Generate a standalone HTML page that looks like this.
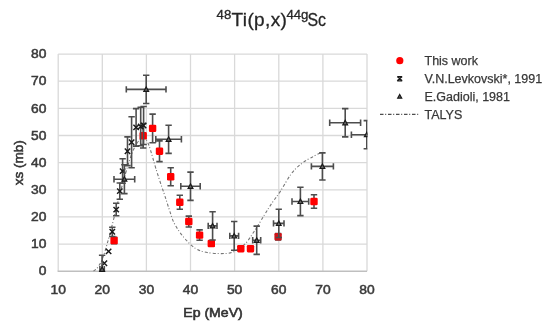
<!DOCTYPE html>
<html><head><meta charset="utf-8"><style>
html,body{margin:0;padding:0;background:#fff;}
svg{display:block;}
text{font-family:"Liberation Sans",sans-serif;fill:#404040;}
.tk{font-size:12.6px;fill:#3a3a3a;stroke:#3a3a3a;stroke-width:0.5px;}
.lg{font-size:12.5px;fill:#383838;stroke:#383838;stroke-width:0.25px;}
.at{font-size:13.5px;fill:#333;stroke:#333;stroke-width:0.55px;}
.at2{font-size:12.8px;fill:#333;stroke:#333;stroke-width:0.6px;}
.tt{font-size:19px;fill:#262626;stroke:#262626;stroke-width:0.3px;}
.sup{font-size:13.2px;}
</style></head><body>
<svg width="550" height="330" viewBox="0 0 550 330">
<defs><clipPath id="pc"><rect x="40" y="40" width="327.4" height="231.9"/></clipPath></defs>
<rect width="550" height="330" fill="#fff"/>
<line x1="58.2" y1="244.1" x2="367.0" y2="244.1" stroke="#d9d9d9" stroke-width="1.3"/>
<line x1="58.2" y1="216.9" x2="367.0" y2="216.9" stroke="#d9d9d9" stroke-width="1.3"/>
<line x1="58.2" y1="189.8" x2="367.0" y2="189.8" stroke="#d9d9d9" stroke-width="1.3"/>
<line x1="58.2" y1="162.6" x2="367.0" y2="162.6" stroke="#d9d9d9" stroke-width="1.3"/>
<line x1="58.2" y1="135.5" x2="367.0" y2="135.5" stroke="#d9d9d9" stroke-width="1.3"/>
<line x1="58.2" y1="108.4" x2="367.0" y2="108.4" stroke="#d9d9d9" stroke-width="1.3"/>
<line x1="58.2" y1="81.2" x2="367.0" y2="81.2" stroke="#d9d9d9" stroke-width="1.3"/>
<line x1="58.2" y1="54.1" x2="367.0" y2="54.1" stroke="#d9d9d9" stroke-width="1.3"/>
<line x1="102.3" y1="271.2" x2="102.3" y2="54.1" stroke="#d9d9d9" stroke-width="1.3"/>
<line x1="146.4" y1="271.2" x2="146.4" y2="54.1" stroke="#d9d9d9" stroke-width="1.3"/>
<line x1="190.5" y1="271.2" x2="190.5" y2="54.1" stroke="#d9d9d9" stroke-width="1.3"/>
<line x1="234.6" y1="271.2" x2="234.6" y2="54.1" stroke="#d9d9d9" stroke-width="1.3"/>
<line x1="278.8" y1="271.2" x2="278.8" y2="54.1" stroke="#d9d9d9" stroke-width="1.3"/>
<line x1="322.9" y1="271.2" x2="322.9" y2="54.1" stroke="#d9d9d9" stroke-width="1.3"/>
<line x1="367.0" y1="271.2" x2="367.0" y2="54.1" stroke="#d9d9d9" stroke-width="1.3"/>
<line x1="58.2" y1="271.2" x2="58.2" y2="54.1" stroke="#d9d9d9" stroke-width="1.3"/>
<line x1="57.6" y1="271.2" x2="367.0" y2="271.2" stroke="#bfbfbf" stroke-width="1.5"/>
<text transform="translate(46.4,275.4) scale(1.1,1)" text-anchor="end" class="tk">0</text>
<text transform="translate(46.4,248.3) scale(1.1,1)" text-anchor="end" class="tk">10</text>
<text transform="translate(46.4,221.1) scale(1.1,1)" text-anchor="end" class="tk">20</text>
<text transform="translate(46.4,194.0) scale(1.1,1)" text-anchor="end" class="tk">30</text>
<text transform="translate(46.4,166.8) scale(1.1,1)" text-anchor="end" class="tk">40</text>
<text transform="translate(46.4,139.7) scale(1.1,1)" text-anchor="end" class="tk">50</text>
<text transform="translate(46.4,112.6) scale(1.1,1)" text-anchor="end" class="tk">60</text>
<text transform="translate(46.4,85.4) scale(1.1,1)" text-anchor="end" class="tk">70</text>
<text transform="translate(46.4,58.3) scale(1.1,1)" text-anchor="end" class="tk">80</text>
<text transform="translate(58.2,293.6) scale(1.1,1)" text-anchor="middle" class="tk">10</text>
<text transform="translate(102.3,293.6) scale(1.1,1)" text-anchor="middle" class="tk">20</text>
<text transform="translate(146.4,293.6) scale(1.1,1)" text-anchor="middle" class="tk">30</text>
<text transform="translate(190.5,293.6) scale(1.1,1)" text-anchor="middle" class="tk">40</text>
<text transform="translate(234.6,293.6) scale(1.1,1)" text-anchor="middle" class="tk">50</text>
<text transform="translate(278.8,293.6) scale(1.1,1)" text-anchor="middle" class="tk">60</text>
<text transform="translate(322.9,293.6) scale(1.1,1)" text-anchor="middle" class="tk">70</text>
<text transform="translate(367.0,293.6) scale(1.1,1)" text-anchor="middle" class="tk">80</text>
<path d="M93.5,271.2 C94.2,270.5 96.4,269.2 97.9,267.1 C99.4,265.1 100.8,262.6 102.3,259.0 C103.8,255.4 105.3,250.4 106.7,245.4 C108.2,240.4 109.7,234.8 111.1,229.1 C112.6,223.5 114.1,217.4 115.5,211.5 C117.0,205.6 118.5,199.5 120.0,193.9 C121.4,188.2 122.9,182.8 124.4,177.6 C125.8,172.4 127.3,167.2 128.8,162.6 C130.2,158.1 131.7,153.8 133.2,150.4 C134.7,147.0 136.1,144.3 137.6,142.3 C139.1,140.2 140.7,138.8 142.0,138.2 C143.3,137.6 144.4,137.5 145.5,138.8 C146.7,140.0 147.9,142.7 149.1,145.8 C150.2,148.9 151.5,153.4 152.6,157.2 C153.7,161.0 154.6,164.3 155.9,168.6 C157.2,172.9 159.0,178.4 160.5,183.0 C162.0,187.6 163.5,191.5 164.9,196.0 C166.4,200.5 167.8,205.3 169.4,209.9 C170.9,214.4 171.9,218.6 174.2,223.2 C176.6,227.7 179.9,232.8 183.5,237.0 C187.0,241.2 191.4,245.8 195.4,248.4 C199.4,251.0 203.0,251.6 207.3,252.5 C211.6,253.3 217.1,253.6 221.4,253.6 C225.7,253.5 229.3,253.6 233.3,251.9 C237.3,250.3 241.7,247.3 245.2,243.8 C248.8,240.3 251.3,235.5 254.5,230.8 C257.7,226.0 261.3,220.0 264.2,215.3 C267.1,210.6 269.4,206.8 272.1,202.8 C274.9,198.8 277.4,195.9 280.5,191.1 C283.7,186.3 287.6,178.7 291.1,174.0 C294.6,169.4 298.1,166.3 301.7,163.5 C305.3,160.6 309.3,158.7 312.5,156.9 C315.7,155.1 319.7,153.3 321.1,152.6" fill="none" stroke="#777" stroke-width="1.1" stroke-dasharray="3,1.8,1,2.2"/>
<g clip-path="url(#pc)">
<path d="M114.1,237.3V243.8M110.9,237.3H117.3M110.9,243.8H117.3" stroke="#4d4d4d" stroke-width="1.6" fill="none"/>
<path d="M143.2,123.6V148.0M140.0,123.6H146.4M140.0,148.0H146.4" stroke="#4d4d4d" stroke-width="1.6" fill="none"/>
<path d="M152.6,114.1V142.8M149.4,114.1H155.8M149.4,142.8H155.8" stroke="#4d4d4d" stroke-width="1.6" fill="none"/>
<path d="M159.5,140.9V161.6M156.3,140.9H162.7M156.3,161.6H162.7" stroke="#4d4d4d" stroke-width="1.6" fill="none"/>
<path d="M170.7,167.8V185.7M167.5,167.8H173.9M167.5,185.7H173.9" stroke="#4d4d4d" stroke-width="1.6" fill="none"/>
<path d="M179.8,195.2V209.3M176.6,195.2H183.0M176.6,209.3H183.0" stroke="#4d4d4d" stroke-width="1.6" fill="none"/>
<path d="M188.8,216.1V227.0M185.6,216.1H192.0M185.6,227.0H192.0" stroke="#4d4d4d" stroke-width="1.6" fill="none"/>
<path d="M199.6,229.9V240.3M196.4,229.9H202.8M196.4,240.3H202.8" stroke="#4d4d4d" stroke-width="1.6" fill="none"/>
<path d="M211.3,240.8V246.2M208.1,240.8H214.5M208.1,246.2H214.5" stroke="#4d4d4d" stroke-width="1.6" fill="none"/>
<path d="M240.8,246.5V250.8M237.6,246.5H244.0M237.6,250.8H244.0" stroke="#4d4d4d" stroke-width="1.6" fill="none"/>
<path d="M250.5,246.5V250.8M247.3,246.5H253.7M247.3,250.8H253.7" stroke="#4d4d4d" stroke-width="1.6" fill="none"/>
<path d="M278.1,233.5V240.0M274.9,233.5H281.3M274.9,240.0H281.3" stroke="#4d4d4d" stroke-width="1.6" fill="none"/>
<path d="M314.0,194.7V208.2M310.8,194.7H317.2M310.8,208.2H317.2" stroke="#4d4d4d" stroke-width="1.6" fill="none"/>
<rect x="110.4" y="236.8" width="7.4" height="7.4" rx="1.3" fill="#ff0000"/>
<rect x="139.5" y="132.1" width="7.4" height="7.4" rx="1.3" fill="#ff0000"/>
<rect x="148.9" y="124.7" width="7.4" height="7.4" rx="1.3" fill="#ff0000"/>
<rect x="155.8" y="147.5" width="7.4" height="7.4" rx="1.3" fill="#ff0000"/>
<rect x="167.0" y="173.1" width="7.4" height="7.4" rx="1.3" fill="#ff0000"/>
<rect x="176.1" y="198.6" width="7.4" height="7.4" rx="1.3" fill="#ff0000"/>
<rect x="185.1" y="217.8" width="7.4" height="7.4" rx="1.3" fill="#ff0000"/>
<rect x="195.9" y="231.4" width="7.4" height="7.4" rx="1.3" fill="#ff0000"/>
<rect x="207.6" y="239.8" width="7.4" height="7.4" rx="1.3" fill="#ff0000"/>
<rect x="237.1" y="245.0" width="7.4" height="7.4" rx="1.3" fill="#ff0000"/>
<rect x="246.8" y="245.0" width="7.4" height="7.4" rx="1.3" fill="#ff0000"/>
<rect x="274.4" y="233.0" width="7.4" height="7.4" rx="1.3" fill="#d01418"/>
<rect x="310.3" y="197.8" width="7.4" height="7.4" rx="1.3" fill="#ff0000"/>
<path d="M112.3,227.2V236.5M109.1,227.2H115.5M109.1,236.5H115.5" stroke="#4d4d4d" stroke-width="1.6" fill="none"/>
<path d="M116.2,203.3V215.8M113.0,203.3H119.4M113.0,215.8H119.4" stroke="#4d4d4d" stroke-width="1.6" fill="none"/>
<path d="M119.8,183.0V199.3M116.6,183.0H123.0M116.6,199.3H123.0" stroke="#4d4d4d" stroke-width="1.6" fill="none"/>
<path d="M122.6,158.8V183.3M119.4,158.8H125.8M119.4,183.3H125.8" stroke="#4d4d4d" stroke-width="1.6" fill="none"/>
<path d="M127.5,136.9V165.6M124.3,136.9H130.7M124.3,165.6H130.7" stroke="#4d4d4d" stroke-width="1.6" fill="none"/>
<path d="M131.6,116.8V167.8M128.4,116.8H134.8M128.4,167.8H134.8" stroke="#4d4d4d" stroke-width="1.6" fill="none"/>
<path d="M136.1,108.6V146.1M132.9,108.6H139.3M132.9,146.1H139.3" stroke="#4d4d4d" stroke-width="1.6" fill="none"/>
<path d="M140.7,107.3V145.8M137.5,107.3H143.9M137.5,145.8H143.9" stroke="#4d4d4d" stroke-width="1.6" fill="none"/>
<path d="M143.6,106.5V144.5M140.4,106.5H146.8M140.4,144.5H146.8" stroke="#4d4d4d" stroke-width="1.6" fill="none"/>
<path d="M101.7,260.6L107.1,266.0M107.1,260.6L101.7,266.0" stroke="#1a1a1a" stroke-width="1.45" fill="none"/>
<path d="M105.9,248.7L111.3,254.1M111.3,248.7L105.9,254.1" stroke="#1a1a1a" stroke-width="1.45" fill="none"/>
<path d="M109.6,229.1L115.0,234.5M115.0,229.1L109.6,234.5" stroke="#1a1a1a" stroke-width="1.45" fill="none"/>
<path d="M113.5,206.9L118.9,212.3M118.9,206.9L113.5,212.3" stroke="#1a1a1a" stroke-width="1.45" fill="none"/>
<path d="M117.1,188.4L122.5,193.8M122.5,188.4L117.1,193.8" stroke="#1a1a1a" stroke-width="1.45" fill="none"/>
<path d="M119.9,168.4L125.3,173.8M125.3,168.4L119.9,173.8" stroke="#1a1a1a" stroke-width="1.45" fill="none"/>
<path d="M124.8,148.5L130.2,153.9M130.2,148.5L124.8,153.9" stroke="#1a1a1a" stroke-width="1.45" fill="none"/>
<path d="M128.9,139.6L134.3,145.0M134.3,139.6L128.9,145.0" stroke="#1a1a1a" stroke-width="1.45" fill="none"/>
<path d="M133.4,124.7L138.8,130.1M138.8,124.7L133.4,130.1" stroke="#1a1a1a" stroke-width="1.45" fill="none"/>
<path d="M138.0,123.8L143.4,129.2M143.4,123.8L138.0,129.2" stroke="#1a1a1a" stroke-width="1.45" fill="none"/>
<path d="M140.9,122.8L146.3,128.2M146.3,122.8L140.9,128.2" stroke="#1a1a1a" stroke-width="1.45" fill="none"/>
<path d="M99.9,269.3H104.3M99.9,266.1V272.5M104.3,266.1V272.5" stroke="#4d4d4d" stroke-width="1.6" fill="none"/>
<path d="M102.1,255.2V283.4M98.9,255.2H105.3M98.9,283.4H105.3" stroke="#4d4d4d" stroke-width="1.6" fill="none"/>
<path d="M114.0,179.2H134.7M114.0,176.0V182.4M134.7,176.0V182.4" stroke="#4d4d4d" stroke-width="1.6" fill="none"/>
<path d="M124.4,164.8V193.6M121.2,164.8H127.6M121.2,193.6H127.6" stroke="#4d4d4d" stroke-width="1.6" fill="none"/>
<path d="M126.3,89.4H166.0M126.3,86.2V92.6M166.0,86.2V92.6" stroke="#4d4d4d" stroke-width="1.6" fill="none"/>
<path d="M146.2,75.2V103.5M143.0,75.2H149.4M143.0,103.5H149.4" stroke="#4d4d4d" stroke-width="1.6" fill="none"/>
<path d="M155.8,139.3H181.4M155.8,136.1V142.5M181.4,136.1V142.5" stroke="#4d4d4d" stroke-width="1.6" fill="none"/>
<path d="M168.6,125.2V153.4M165.4,125.2H171.8M165.4,153.4H171.8" stroke="#4d4d4d" stroke-width="1.6" fill="none"/>
<path d="M180.8,186.3H200.2M180.8,183.1V189.5M200.2,183.1V189.5" stroke="#4d4d4d" stroke-width="1.6" fill="none"/>
<path d="M190.5,172.1V200.4M187.3,172.1H193.7M187.3,200.4H193.7" stroke="#4d4d4d" stroke-width="1.6" fill="none"/>
<path d="M208.2,225.9H217.0M208.2,222.7V229.1M217.0,222.7V229.1" stroke="#4d4d4d" stroke-width="1.6" fill="none"/>
<path d="M212.6,211.8V240.0M209.4,211.8H215.8M209.4,240.0H215.8" stroke="#4d4d4d" stroke-width="1.6" fill="none"/>
<path d="M229.8,235.9H238.6M229.8,232.7V239.1M238.6,232.7V239.1" stroke="#4d4d4d" stroke-width="1.6" fill="none"/>
<path d="M234.2,221.5V250.3M231.0,221.5H237.4M231.0,250.3H237.4" stroke="#4d4d4d" stroke-width="1.6" fill="none"/>
<path d="M252.7,240.3H260.7M252.7,237.1V243.5M260.7,237.1V243.5" stroke="#4d4d4d" stroke-width="1.6" fill="none"/>
<path d="M256.7,226.1V254.4M253.5,226.1H259.9M253.5,254.4H259.9" stroke="#4d4d4d" stroke-width="1.6" fill="none"/>
<path d="M273.5,223.4H284.0M273.5,220.2V226.6M284.0,220.2V226.6" stroke="#4d4d4d" stroke-width="1.6" fill="none"/>
<path d="M278.8,209.3V237.5M275.6,209.3H281.9M275.6,237.5H281.9" stroke="#4d4d4d" stroke-width="1.6" fill="none"/>
<path d="M292.0,201.5H308.7M292.0,198.3V204.7M308.7,198.3V204.7" stroke="#4d4d4d" stroke-width="1.6" fill="none"/>
<path d="M300.4,187.3V215.6M297.2,187.3H303.6M297.2,215.6H303.6" stroke="#4d4d4d" stroke-width="1.6" fill="none"/>
<path d="M311.4,166.4H333.4M311.4,163.2V169.6M333.4,163.2V169.6" stroke="#4d4d4d" stroke-width="1.6" fill="none"/>
<path d="M322.4,152.9V180.0M319.2,152.9H325.6M319.2,180.0H325.6" stroke="#4d4d4d" stroke-width="1.6" fill="none"/>
<path d="M329.7,122.7H360.6M329.7,119.5V125.9M360.6,119.5V125.9" stroke="#4d4d4d" stroke-width="1.6" fill="none"/>
<path d="M345.2,108.6V136.9M342.0,108.6H348.4M342.0,136.9H348.4" stroke="#4d4d4d" stroke-width="1.6" fill="none"/>
<path d="M351.4,134.7H382.2M351.4,131.5V137.9M382.2,131.5V137.9" stroke="#4d4d4d" stroke-width="1.6" fill="none"/>
<path d="M366.8,120.6V148.8M363.6,120.6H370.0M363.6,148.8H370.0" stroke="#4d4d4d" stroke-width="1.6" fill="none"/>
<path d="M102.1,266.9L104.5,271.3L99.7,271.3Z" fill="#666" stroke="#1a1a1a" stroke-width="1.2"/>
<path d="M124.4,176.8L126.8,181.2L122.0,181.2Z" fill="#666" stroke="#1a1a1a" stroke-width="1.2"/>
<path d="M146.2,87.0L148.6,91.4L143.8,91.4Z" fill="#666" stroke="#1a1a1a" stroke-width="1.2"/>
<path d="M168.6,136.9L171.0,141.3L166.2,141.3Z" fill="#666" stroke="#1a1a1a" stroke-width="1.2"/>
<path d="M190.5,183.9L192.9,188.3L188.1,188.3Z" fill="#666" stroke="#1a1a1a" stroke-width="1.2"/>
<path d="M212.6,223.5L215.0,227.9L210.2,227.9Z" fill="#666" stroke="#1a1a1a" stroke-width="1.2"/>
<path d="M234.2,233.5L236.6,238.0L231.8,238.0Z" fill="#666" stroke="#1a1a1a" stroke-width="1.2"/>
<path d="M256.7,237.9L259.1,242.3L254.3,242.3Z" fill="#666" stroke="#1a1a1a" stroke-width="1.2"/>
<path d="M278.8,221.0L281.1,225.5L276.4,225.5Z" fill="#666" stroke="#1a1a1a" stroke-width="1.2"/>
<path d="M300.4,199.1L302.8,203.5L298.0,203.5Z" fill="#666" stroke="#1a1a1a" stroke-width="1.2"/>
<path d="M322.4,164.0L324.8,168.5L320.0,168.5Z" fill="#666" stroke="#1a1a1a" stroke-width="1.2"/>
<path d="M345.2,120.3L347.6,124.8L342.8,124.8Z" fill="#666" stroke="#1a1a1a" stroke-width="1.2"/>
<path d="M366.8,132.3L369.2,136.7L364.4,136.7Z" fill="#666" stroke="#1a1a1a" stroke-width="1.2"/>
</g>
<circle cx="399.8" cy="60.7" r="3.6" fill="#ff0000"/>
<path d="M397.2,76.6L402.2,80.8M402.2,76.6L397.2,80.8M397.2,76.6H402.2M397.2,80.8H402.2" stroke="#1a1a1a" stroke-width="1.3" fill="none"/>
<path d="M399.7,94.5L401.7,98.2L397.7,98.2Z" fill="#666" stroke="#1a1a1a" stroke-width="1.2"/>
<line x1="380" y1="114.4" x2="418.5" y2="114.4" stroke="#4d4d4d" stroke-width="1.2" stroke-dasharray="3.5,1.7,1,1.8"/>
<text x="424.5" y="64.5" class="lg">This work</text>
<text x="424.5" y="82.5" class="lg">V.N.Levkovski*, 1991</text>
<text x="424.5" y="100.5" class="lg">E.Gadioli, 1981</text>
<text x="424.5" y="118.5" class="lg">TALYS</text>
<text transform="translate(213,317) scale(1.1,1)" text-anchor="middle" class="at2">Ep (MeV)</text>
<text transform="translate(23.2,162.8) rotate(-90)" text-anchor="middle" class="at">xs (mb)</text>
<text class="tt"><tspan class="sup" x="216.6" y="18.8">48</tspan><tspan x="231.6" y="25.5" letter-spacing="0.35">Ti(p,x)</tspan><tspan class="sup" x="286.4" y="18.8">44g</tspan></text><text class="tt" transform="translate(307.4,25.5) scale(0.84,1)">Sc</text>
</svg>
</body></html>
